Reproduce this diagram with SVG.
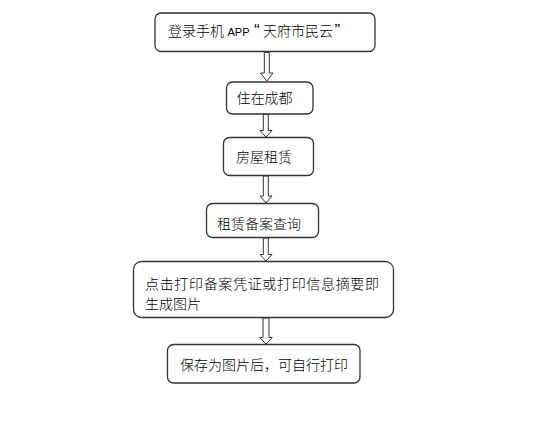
<svg xmlns="http://www.w3.org/2000/svg" width="534" height="435" viewBox="0 0 534 435">
<style>
.box{fill:#fff;stroke:#333;stroke-width:1.3}
.t{font-family:"Noto Sans CJK SC","Noto Sans",sans-serif;font-size:14px;font-weight:300;fill:#000}
.lat{font-family:"Liberation Sans",Arial,sans-serif;font-weight:400}
.arr{fill:#fff;stroke:#333;stroke-width:1}
</style>
<rect width="534" height="435" fill="#fff"/>
<g id="connectors">
<path class="arr" d="M264.3,52.5 V73 H260.5 L266.8,81 L273,73 H269.3 V52.5 Z"/>
<path class="arr" d="M263.3,114.5 V130.5 H260 L266,137 L272,130.5 H268.3 V114.5 Z"/>
<path class="arr" d="M263.3,176 V196 H260 L266,203 L272,196 H268.3 V176 Z"/>
<path class="arr" d="M263.3,238 V254.5 H260 L266,261 L272,254.5 H268.3 V238 Z"/>
<path class="arr" d="M263,318 V337.5 H259.8 L266,344 L272.2,337.5 H269 V318 Z"/>
</g>
<g id="n1">
<rect class="box" x="155" y="13" width="220" height="38.5" rx="6"/>
<text class="t" y="36"><tspan x="168">登录手机</tspan><tspan class="lat" x="227.5" font-size="11">APP</tspan><tspan class="lat" x="254" font-size="17">“</tspan><tspan x="263">天府市民云</tspan><tspan class="lat" x="334.5" font-size="17">”</tspan></text>
</g>
<g id="n2">
<rect class="box" x="226.5" y="82" width="86.5" height="32" rx="6"/>
<text class="t" x="236.5" y="103">住在成都</text>
</g>
<g id="n3">
<rect class="box" x="223.5" y="137.5" width="90" height="38" rx="6"/>
<text class="t" x="236" y="161.5">房屋租赁</text>
</g>
<g id="n4">
<rect class="box" x="206.5" y="203.5" width="112" height="34" rx="6"/>
<text class="t" x="217" y="228.5">租赁备案查询</text>
</g>
<g id="n5">
<rect class="box" x="133.5" y="261.5" width="260" height="56" rx="8"/>
<text class="t" x="145" y="288.5" textLength="234" lengthAdjust="spacing">点击打印备案凭证或打印信息摘要即</text>
<text class="t" x="145" y="308.5">生成图片</text>
</g>
<g id="n6">
<rect class="box" x="167.5" y="344.5" width="192.5" height="38.5" rx="6"/>
<text class="t" x="180" y="370">保存为图片后，可自行打印</text>
</g>
</svg>
